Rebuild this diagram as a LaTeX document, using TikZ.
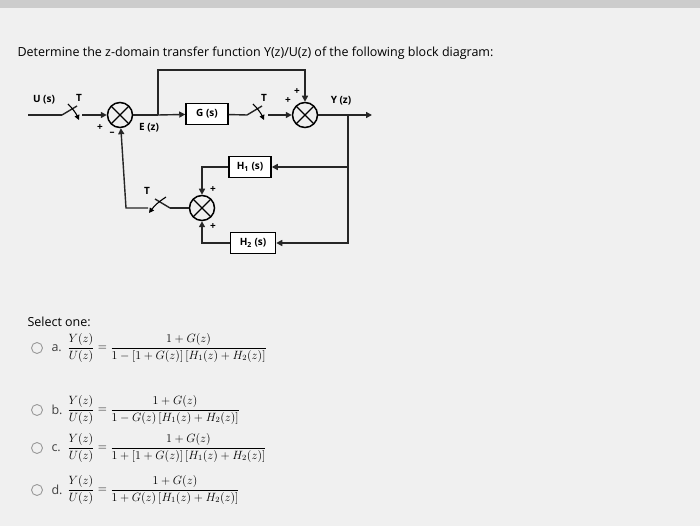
\documentclass[tikz,border=0pt]{standalone}
\usepackage{amsmath}
\usepackage{fontspec}
\setmainfont{Open Sans}
\usetikzlibrary{arrows.meta,calc}
\begin{document}
\begin{tikzpicture}[x=1pt,y=-1pt,
  sumj/.style={circle,draw,line width=1.5pt,minimum size=25pt,inner sep=0pt,
    path picture={\draw[line width=1.3pt] (path picture bounding box.north west)--(path picture bounding box.south east) (path picture bounding box.north east)--(path picture bounding box.south west);}},
  blk/.style={draw,line width=1.5pt,fill=white,inner sep=2pt,minimum height=21pt,font=\bfseries\fontsize{10}{12}\selectfont},
  ln/.style={line width=1.4pt,draw=black!85},
  ar/.style={ln,-{Triangle[length=6pt,width=6pt]}},
  sg/.style={font=\bfseries\fontsize{10}{12}\selectfont},
  radio/.style={circle,draw=gray!80,line width=0.9pt,minimum size=11pt,inner sep=0pt}]
\fill[gray!12] (0,0) rectangle (700,526);
\fill[gray!40] (0,0) rectangle (700,8);
\node[anchor=west,font=\fontsize{12.5}{15}\selectfont] (title) at (14,53) {Determine the z-domain transfer function Y(z)/U(z) of the following block diagram:};
% blocks
\node[sumj] (s1) at (120,115) {};
\node[sumj] (s2) at (305,115) {};
\node[sumj] (s3) at (202,208) {};
\node[blk,minimum width=42pt] (g) at (207,114) {G (s)};
\node[blk,minimum width=42pt] (h1) at (250,167) {H\textsubscript{1} (s)};
\node[blk,minimum width=45pt] (h2) at (253,243) {H\textsubscript{2} (s)};
\node[sg] (ul) at (44,100) {U (s)};
\node[sg] (el) at (149,128) {E (z)};
\node[sg] (yl) at (341,101) {Y (z)};
% coordinates
\coordinate (in) at (28,115);
\coordinate (sw1a) at (62,115); \coordinate (sw1b) at (82,115);
\coordinate (br1) at (158,115);
\coordinate (top1) at (158,70); \coordinate (top2) at (305,70);
\coordinate (sw2a) at (247,115); \coordinate (sw2b) at (268,115);
\coordinate (br2) at (348,115);
\coordinate (out) at (372,115);
\coordinate (r1) at (348,167); \coordinate (r2) at (348,243);
\coordinate (c1) at (202,167); \coordinate (c2) at (202,243);
\coordinate (sw3a) at (170,208); \coordinate (sw3b) at (148,208);
\coordinate (bl) at (126,208);
% switches
\foreach \a/\b in {sw1a/sw1b,sw2a/sw2b}{
  \draw[ln] (\a) -- ++(15,-9);
  \draw[line width=1.1pt,-{Triangle[length=5pt,width=5pt]}] ($(\a)+(6,-11)$) to[bend left=10] ($(\a)+(17,5)$);
  \node[sg] at ($(\a)+(17,-17)$) {T};
}
\draw[ln] (sw3a) -- ++(-15,-9);
\draw[line width=1.1pt,-{Triangle[length=5pt,width=5pt]}] ($(sw3a)+(-4,-11)$) to[bend right=10] ($(sw3a)+(-21,5)$);
\node[sg] at ($(sw3a)+(-23,-17)$) {T};
% connectors
\draw[ln] (in) -- (sw1a);
\draw[ar] (sw1b) -- (s1);
\draw[ln] (s1) -- (br1);
\draw[ar] (br1) -- (g);
\draw[ar] (br1) -- (top1) -- (top2) -- (s2);
\draw[ln] (g) -- (sw2a);
\draw[ar] (sw2b) -- (s2);
\draw[ar] (s2) -- (out);
\draw[ar] (br2) -- (r1) -- (h1);
\draw[ar] (r1) -- (r2) -- (h2);
\draw[ar] (h1) -- (c1) -- (s3);
\draw[ar] (h2) -- (c2) -- (s3);
\draw[ln] (s3) -- (sw3a);
\draw[ar] (sw3b) -- (bl) -- (s1);
% signs
\node[sg] at (100,128) {+}; \node[sg] at (112,134) {--};
\node[sg] at (288,101) {+}; \node[sg] at (297,92) {+};
\node[sg] at (213,190) {+}; \node[sg] at (213,227) {+};
% options
\node[anchor=west,font=\fontsize{12.5}{15}\selectfont] (sel) at (24,322) {Select one:};
\foreach \y/\l in {348/a,410/b,448/c,490/d}{
  \node[radio] (r\l) at (37,\y) {};
  \node[anchor=west,font=\fontsize{12.5}{15}\selectfont,text=black!75] (lab\l) at (48,\y) {\l.};
}
\tikzset{frm/.style={anchor=west,font=\fontsize{11.5}{14}\selectfont}}
\node[frm] (fa) at (64,348) {$\dfrac{Y(z)}{U(z)}=\dfrac{1+G(z)}{1-[1+G(z)]\,[H_1(z)+H_2(z)]}$};
\node[frm] (fb) at (64,410) {$\dfrac{Y(z)}{U(z)}=\dfrac{1+G(z)}{1-G(z)\,[H_1(z)+H_2(z)]}$};
\node[frm] (fc) at (64,448) {$\dfrac{Y(z)}{U(z)}=\dfrac{1+G(z)}{1+[1+G(z)]\,[H_1(z)+H_2(z)]}$};
\node[frm] (fd) at (64,490) {$\dfrac{Y(z)}{U(z)}=\dfrac{1+G(z)}{1+G(z)\,[H_1(z)+H_2(z)]}$};
\end{tikzpicture}
\end{document}
